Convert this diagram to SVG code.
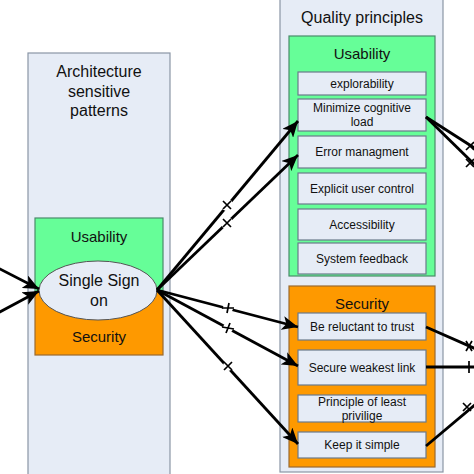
<svg xmlns="http://www.w3.org/2000/svg" width="474" height="474" viewBox="0 0 474 474">
<defs>
<marker id="ah" markerUnits="userSpaceOnUse" markerWidth="18" markerHeight="14" refX="16" refY="7" orient="auto">
<path d="M0,0 L16,7 L0,14 L4,7 Z" fill="#000"/>
</marker>
<style>
.panel{fill:#e6ecf6;stroke:#8a96a6;stroke-width:1.2}
.grn{fill:#66fe98;stroke:#4a8a6a;stroke-width:1.2}
.org{fill:#fe9900;stroke:#9a6a30;stroke-width:1.2}
.item{fill:#e6ecf6;stroke:#6a7a8a;stroke-width:1.2}
.t{font-family:"Liberation Sans",Arial,sans-serif;fill:#111;text-anchor:middle}
.h{font-size:16px}
.b{font-size:15px}
.s{font-size:12px}
.ln{stroke:#000;stroke-width:2.8;fill:none}
.x{stroke:#000;stroke-width:1.7;fill:none}
</style>
</defs>
<rect width="474" height="474" fill="#fff"/>
<g id="arch-panel">
<rect class="panel" x="28" y="53" width="142" height="430"/>
<text class="t h" x="99" y="77">Architecture</text>
<text class="t h" x="99" y="97">sensitive</text>
<text class="t h" x="99" y="116">patterns</text>
</g>
<g id="sso">
<rect class="grn" x="35" y="218" width="128" height="74"/>
<rect class="org" x="35" y="292" width="128" height="63"/>
<text class="t b" x="99" y="242">Usability</text>
<text class="t b" x="99" y="342">Security</text>
<ellipse cx="98" cy="290.5" rx="59" ry="29.5" fill="#e6ecf6" stroke="#555" stroke-width="1"/>
<text class="t h" x="99" y="286">Single Sign</text>
<text class="t h" x="99" y="306">on</text>
</g>
<g id="quality-panel">
<rect class="panel" x="280" y="-2" width="163" height="474"/>
<text class="t h" x="362" y="23">Quality principles</text>
</g>
<g id="usability">
<rect class="grn" x="289" y="36" width="146" height="240"/>
<text class="t b" x="362" y="59">Usability</text>
</g>
<g id="u1"><rect class="item" x="298" y="72" width="128" height="23"/><text class="t s" x="362" y="88">explorability</text></g>
<g id="u2"><rect class="item" x="298" y="99" width="128" height="32"/><text class="t s" x="362" y="112">Minimize cognitive</text><text class="t s" x="362" y="126">load</text></g>
<g id="u3"><rect class="item" x="298" y="136" width="128" height="32"/><text class="t s" x="362" y="156">Error managment</text></g>
<g id="u4"><rect class="item" x="298" y="173" width="128" height="31"/><text class="t s" x="362" y="193">Explicit user control</text></g>
<g id="u5"><rect class="item" x="298" y="209" width="128" height="31"/><text class="t s" x="362" y="229">Accessibility</text></g>
<g id="u6"><rect class="item" x="298" y="243" width="128" height="31"/><text class="t s" x="362" y="263">System feedback</text></g>
<g id="security">
<rect class="org" x="289" y="286" width="146" height="181"/>
<text class="t b" x="362" y="309">Security</text>
</g>
<g id="s1"><rect class="item" x="298" y="313" width="128" height="27"/><text class="t s" x="362" y="331">Be reluctant to trust</text></g>
<g id="s2"><rect class="item" x="298" y="350" width="128" height="35"/><text class="t s" x="362" y="372">Secure weakest link</text></g>
<g id="s3"><rect class="item" x="298" y="395" width="128" height="27"/><text class="t s" x="362" y="406">Principle of least</text><text class="t s" x="362" y="420">privilige</text></g>
<g id="s4"><rect class="item" x="298" y="432" width="128" height="26"/><text class="t s" x="362" y="449">Keep it simple</text></g>
<g id="connectors">
<line class="ln" x1="-2" y1="268" x2="39" y2="289" marker-end="url(#ah)"/>
<line class="ln" x1="-2" y1="313" x2="39" y2="291" marker-end="url(#ah)"/>
<line class="ln" x1="157" y1="290" x2="298" y2="121" marker-end="url(#ah)"/>
<line class="ln" x1="157" y1="290" x2="298" y2="155" marker-end="url(#ah)"/>
<line class="ln" x1="157" y1="290" x2="298" y2="327" marker-end="url(#ah)"/>
<line class="ln" x1="157" y1="290" x2="298" y2="366" marker-end="url(#ah)"/>
<line class="ln" x1="157" y1="290" x2="298" y2="444" marker-end="url(#ah)"/>
<line class="ln" x1="426" y1="117" x2="476" y2="149"/>
<line class="ln" x1="426" y1="117" x2="476" y2="166"/>
<line class="ln" x1="426" y1="327" x2="476" y2="349"/>
<line class="ln" x1="426" y1="367" x2="476" y2="367"/>
<line class="ln" x1="426" y1="446" x2="476" y2="404"/>
<g id="marks">
<circle cx="227" cy="205" r="6" fill="#fff"/>
<path class="x" d="M223,201 L231,209 M231,201 L223,209"/>
<circle cx="227" cy="223" r="6" fill="#fff"/>
<path class="x" d="M223,219 L231,227 M231,219 L223,227"/>
<circle cx="228" cy="308" r="5" fill="#fff"/>
<path class="x" d="M222,308 L234,308 M229,303 L227,313"/>
<circle cx="228" cy="328" r="5" fill="#fff"/>
<path class="x" d="M222,327 L234,329 M230,323 L226,333"/>
<circle cx="228" cy="366" r="5" fill="#fff"/>
<path class="x" d="M224,362 L232,370 M232,362 L224,370"/>
<path class="x" d="M466,142 L474,150 M474,142 L466,150"/>
<path class="x" d="M466,159 L474,167 M474,159 L466,167"/>
<path class="x" d="M466,341 L472,351 M472,341 L466,351"/>
<path class="x" d="M469,361 L469,373"/>
<path class="x" d="M463,403 L471,411 M471,403 L463,411"/>
</g>
</g>
</svg>
